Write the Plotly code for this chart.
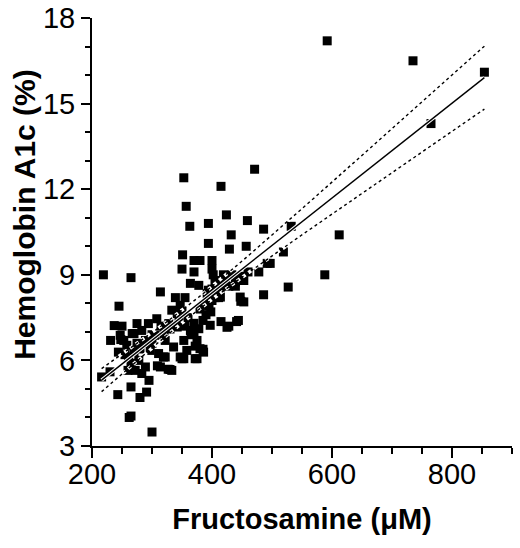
import numpy as np
import plotly.graph_objects as go

# Fructosamine (uM) and Hemoglobin A1c (%)
fructosamine = [
    592, 735, 854, 765, 532, 612, 588, 527, 519,
    471, 415, 353, 357, 424, 459, 363, 394, 486, 432, 394, 457, 429, 351,
    370, 380, 400, 350, 370, 400, 402, 492, 497, 478, 460,
    419, 433, 447, 422, 439, 453, 414, 428, 408, 405,
    364, 378, 394, 486, 439, 448, 441, 425, 415, 397, 444, 428,
    219, 265, 314, 339, 355, 392, 414, 447, 453, 347, 386, 342,
    245, 237, 250, 231, 248, 244, 216, 230, 243, 265, 280, 291, 295, 262, 265, 300,
    258, 261, 278, 289, 272, 283, 260, 297, 311, 322, 333, 327, 309,
    267, 283, 294, 308, 305, 322, 328, 333,
    247, 275, 289, 253, 270,
    342, 364, 378, 353, 375, 336, 358, 380, 353, 375, 386, 372, 350, 385, 347, 319, 314, 330,
    380, 390, 395, 400, 405, 398, 385, 370, 360, 350, 345, 355, 365, 330, 320, 315, 300, 290,
    280, 270, 255, 265, 275, 300,
    410, 405, 400, 395, 411, 370, 372,
]
hba1c = [
    17.2, 16.5, 16.1, 14.3, 10.7, 10.4, 9.0, 8.57, 9.8,
    12.7, 12.1, 12.4, 11.4, 11.1, 10.9, 10.7, 10.8, 10.6, 10.4, 10.1, 10.0, 9.9, 9.7,
    9.5, 9.5, 9.5, 9.2, 9.1, 9.2, 9.0, 9.4, 9.4, 9.1, 9.1,
    9.0, 9.0, 8.95, 8.75, 8.75, 8.8, 8.57, 8.6, 8.8, 8.7,
    8.7, 8.63, 8.46, 8.3, 8.6, 8.07, 7.36, 7.16, 7.36, 7.23, 7.4, 7.2,
    9.0, 8.9, 8.4, 8.2, 8.2, 8.34, 8.22, 8.22, 8.05, 7.93, 7.93, 7.64,
    7.9, 7.22, 7.2, 6.7, 6.73, 6.29, 5.42, 5.6, 4.8, 5.07, 4.7, 4.89, 5.3, 4.0, 4.05, 3.49,
    6.53, 6.12, 6.0, 5.77, 5.65, 5.54, 5.65, 6.35, 6.24, 6.12, 5.65, 5.69, 5.81,
    6.94, 7.05, 7.29, 7.46, 6.88, 6.7, 7.29, 7.76,
    6.88, 7.29, 6.7, 6.7, 6.94,
    7.17, 7.05, 7.11, 6.7, 6.7, 6.47, 6.35, 6.41, 6.06, 6.06, 6.29, 6.06, 6.06, 6.39, 6.12, 6.12, 5.77, 5.68,
    7.8, 7.6, 7.9, 8.1, 8.3, 7.7, 7.4, 7.3, 7.5, 7.7, 7.4, 7.2, 6.9, 7.1, 6.9, 7.2, 6.9, 6.6,
    6.4, 6.3, 6.2, 5.9, 6.6, 6.6,
    8.4, 8.2, 8.5, 8.2, 8.2, 7.0, 6.5,
]

x_ticks = [200, 400, 600, 800]
y_ticks = [3, 6, 9, 12, 15, 18]

# Linear regression with 95% confidence band, computed from the data
x = np.array(fructosamine, dtype=float)
y = np.array(hba1c, dtype=float)
n = len(x)
slope, intercept = np.polyfit(x, y, 1)
resid = y - (slope * x + intercept)
s = np.sqrt(np.sum(resid ** 2) / (n - 2))
xm = x.mean()
sxx = np.sum((x - xm) ** 2)
t95 = 1.973
xf = np.linspace(x.min(), x.max(), 120)
yf = slope * xf + intercept
half = t95 * s * np.sqrt(1.0 / n + (xf - xm) ** 2 / sxx)
upper = yf + half
lower = yf - half

FONT = "Liberation Sans, Arial, Helvetica, sans-serif"

fig = go.Figure()
fig.add_trace(go.Scatter(
    x=fructosamine, y=hba1c, mode="markers",
    marker=dict(symbol="square", size=9, color="black", line=dict(width=0)),
    showlegend=False, hoverinfo="skip",
))
for yy, dash in [(upper, "dot"), (lower, "dot"), (yf, "solid")]:
    fig.add_trace(go.Scatter(x=xf, y=yy, mode="lines",
                             line=dict(color="white", width=3.5, dash=dash),
                             showlegend=False, hoverinfo="skip"))
for yy, dash in [(upper, "dot"), (lower, "dot"), (yf, "solid")]:
    fig.add_trace(go.Scatter(x=xf, y=yy, mode="lines",
                             line=dict(color="black", width=1.4, dash=dash),
                             showlegend=False, hoverinfo="skip"))

axis_common = dict(
    showgrid=False, zeroline=False, showline=True, linecolor="black", linewidth=2,
    ticks="outside", tickcolor="black", tickwidth=2,
    tickfont=dict(family=FONT, size=29, color="black"),
    ticklabeloverflow="allow",
)
fig.update_xaxes(
    range=[200, 900], tickmode="array", tickvals=x_ticks,
    ticktext=[str(v) for v in x_ticks], ticklen=10,
    minor=dict(dtick=50, tick0=200, ticks="outside", ticklen=6, tickwidth=2, tickcolor="black"),
    title=dict(text="Fructosamine (μM)", font=dict(family=FONT, size=29, color="black", weight="bold"), standoff=20),
    ticklabelstandoff=-9,
    **axis_common,
)
fig.update_yaxes(
    range=[3, 18], tickmode="array", tickvals=y_ticks,
    ticktext=[str(v) for v in y_ticks], ticklen=9,
    minor=dict(dtick=1, tick0=3, ticks="outside", ticklen=5, tickwidth=2, tickcolor="black"),
    ticklabelstandoff=0,
    **axis_common,
)
fig.add_annotation(
    text="Hemoglobin A1c (%)", textangle=-90, showarrow=False,
    xref="paper", yref="paper", x=-0.161, y=0.541,
    xanchor="center", yanchor="middle",
    font=dict(family=FONT, size=30, color="black", weight="bold"),
)
fig.update_layout(
    width=520, height=548,
    margin=dict(l=92, r=8, t=18, b=102, autoexpand=False),
    plot_bgcolor="white", paper_bgcolor="white",
)
fig.write_html("out.html", config={"displayModeBar": False},
               post_script="document.body.style.margin='0px';")
